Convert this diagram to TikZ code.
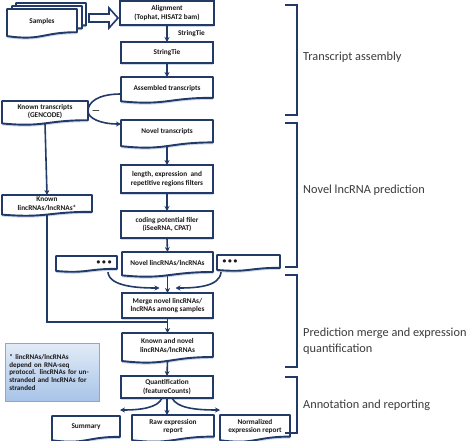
\documentclass[tikz,border=0pt]{standalone}
\usepackage{fontspec}
\setmainfont{Carlito}
\usetikzlibrary{arrows.meta,calc}
\definecolor{navy}{RGB}{34,58,104}
\definecolor{txt}{RGB}{25,25,25}
\definecolor{shadowc}{RGB}{90,130,190}
\definecolor{notefillA}{RGB}{226,235,247}
\definecolor{notefillB}{RGB}{168,195,232}
\definecolor{noteline}{RGB}{140,168,210}
\tikzset{
  boxtext/.style={inner sep=0pt, outer sep=0pt, align=center, text=txt,
     font=\fontsize{7.3}{8.3}\selectfont\bfseries},
  boxshadow/.style={preaction={fill=shadowc, fill opacity=0.3, draw=none, transform canvas={yshift=-2pt}}},
  rbox/.style={boxtext, draw=navy, line width=1.6pt, fill=white, boxshadow},
  docpath/.style={boxshadow, fill=white},
  docline/.style={draw=navy, line width=1.9pt, line join=round},
  arr/.style={draw=navy, line width=1.6pt, -{Stealth[length=5pt,width=5pt]}},
  plain/.style={draw=navy, line width=1.6pt},
  brk/.style={draw=navy, line width=1.6pt},
  lbl/.style={anchor=west, text=txt!85, font=\fontsize{12.3}{16}\selectfont, align=left, inner sep=0pt},
  note/.style={draw=noteline, line width=0.8pt, top color=notefillA, bottom color=notefillB,
     inner sep=4pt, text width=86pt, align=left, text=txt,
     font=\fontsize{7.1}{7.7}\selectfont\bfseries}
}
% document shape: [node opts]{name}{x1}{y1}{x2}{y2}
\newcommand\docshape[6][]{%
  \path[docpath] (#3,#4) -- (#5,#4) -- (#5,{#4+0.80*(#6-#4)})
    .. controls ({(#3+#5)/2},{#4+0.80*(#6-#4)}) and ({(#3+#5)/2},{#4+1.107*(#6-#4)})
    .. (#3,{#4+0.934*(#6-#4)}) -- cycle;
  \draw[docline] (#3,#4) -- (#5,#4) -- (#5,{#4+0.80*(#6-#4)})
    .. controls ({(#3+#5)/2},{#4+0.80*(#6-#4)}) and ({(#3+#5)/2},{#4+1.107*(#6-#4)})
    .. (#3,{#4+0.934*(#6-#4)}) -- cycle;
  \pgfmathsetmacro\dw{#5-#3}\pgfmathsetmacro\dh{0.85*(#6-#4)}%
  \node[boxtext, minimum width=\dw pt, minimum height=\dh pt, anchor=north, #1] (#2) at ({(#3+#5)/2},#4) {\docbody};
  \coordinate (#2-b) at ({(#3+#5)/2},{#4+0.932*(#6-#4)});
}
\newcommand\docbody{}
\newcommand\doc[7][]{\renewcommand\docbody{#7}\docshape[#1]{#2}{#3}{#4}{#5}{#6}}
\begin{document}
\begin{tikzpicture}[x=1pt,y=-1pt]
\useasboundingbox (0,0) rectangle (474,441);

% Samples stack
\doc{s3}{16}{3}{86}{31}{}
\doc{s2}{12}{6}{82}{34}{}
\doc{samples}{7}{9}{77}{38}{Samples}
% hollow arrow
\draw[navy, line width=1.6pt, fill=white, line join=miter]
  (89,14) -- (109,14) -- (109,8) -- (118,18) -- (109,28) -- (109,22) -- (89,22) -- cycle;

% main column
\node[rbox, minimum width=94pt, minimum height=24pt] (align) at (167,13) {Alignment\\(Tophat, HISAT2 bam)};
\node[boxtext, anchor=west] (stlabel) at (178,34) {StringTie};
\node[rbox, minimum width=92pt, minimum height=21pt] (stringtie) at (167,52.5) {StringTie};
\doc{asm}{121}{77}{213}{103}{Assembled transcripts}
\doc{known}{2}{101}{88}{125}{Known transcripts\\(GENCODE)}
\doc{novel}{121}{120}{213}{148}{Novel transcripts}
\node[rbox, minimum width=92pt, minimum height=28pt] (filt) at (167,179) {length, expression\ \ and\\repetitive regions filters};
\node[rbox, minimum width=92pt, minimum height=27pt] (coding) at (167,224.5) {coding potential filer\\(iSeeRNA, CPAT)};
\doc{nl}{122}{252}{213}{277}{Novel lincRNAs/lncRNAs}
\doc[text width=50pt, align=right]{dotsL}{56}{256}{117}{272}{\fontsize{7.5}{7.5}\selectfont\textbullet\hspace{1.8pt}\textbullet\hspace{1.8pt}\textbullet}
\doc[text width=52pt, align=left]{dotsR}{217}{255}{280}{271}{\fontsize{7.5}{7.5}\selectfont\textbullet\hspace{1.8pt}\textbullet\hspace{1.8pt}\textbullet}
\doc{klnc}{2}{195}{92}{216}{Known\\lincRNAs/lncRNAs*}
\node[rbox, minimum width=91pt, minimum height=25pt] (merge) at (167.5,305.5) {Merge novel lincRNAs/\\lncRNAs among samples};
\doc{kn}{122}{333}{213}{363}{Known and novel\\lincRNAs/lncRNAs}
\node[rbox, minimum width=92pt, minimum height=22pt] (quant) at (167,387) {Quantification\\(featureCounts)};
\doc{summary}{52}{416}{120}{442}{Summary}
\doc{raw}{132}{415}{214}{442}{Raw expression\\report}
\doc{norm}{220}{415}{290}{442}{Normalized\\expression report}

% note
\node[note, minimum width=92pt, minimum height=58pt, anchor=north west] (note) at (5,343)
  {* lincRNAs/lncRNAs\\depend on RNA-seq\\protocol. lincRNAs for un-\\stranded and lncRNAs for\\stranded};

% connectors
\draw[arr] (align.south) -- (stringtie.north);
\draw[arr] (stringtie.south) -- (asm.north);
\draw[arr] ($(asm.north west)+(0,17)$) .. controls (98,94) and (88,102) .. (known.east)
   .. controls (88,118) and (100,124) .. ($(novel.north west)+(0,4)$);
\node[font=\fontsize{9}{9}\selectfont\bfseries, text=txt, inner sep=0pt] (minus) at (96,112) {—};
\draw[arr] (novel-b) -- (filt.north);
\draw[arr] (filt.south) -- (coding.north);
\draw[arr] (coding.south) -- (nl.north);
\draw[arr] (nl-b) -- (merge.north);
\coordinate (lstart) at (108,272);
\coordinate (rstart) at (221,272);
\draw[arr] (lstart) .. controls (109,287) and (140,288) .. ($(merge.north)+(-8,-5)$);
\draw[arr] (rstart) .. controls (220,287) and (195,288) .. ($(merge.north)+(8,-5)$);
\draw[arr] (known-b) -- (klnc.north);
\coordinate (join) at (167.5,322);
\draw[plain] (klnc-b) |- (join);
\draw[arr] (merge.south) -- (kn.north);
\draw[arr] (kn-b) -- (quant.north);
\draw[arr] (quant.south) -- (quant.south |- raw.north);
\draw[arr] ($(quant.south)+(-5,0)$) .. controls (158,408) and (140,410) .. ($(summary.north east)+(0,-6)$);
\draw[arr] ($(quant.south)+(5,0)$) .. controls (177,408) and (195,410) .. ($(norm.north west)+(0,-5)$);

% brackets
\draw[brk] (285,5) -- (297,5) -- (297,115) -- (285,115);
\draw[brk] (285,123) -- (297,123) -- (297,267) -- (285,267);
\draw[brk] (285,275) -- (297,275) -- (297,367) -- (285,367);
\draw[brk] (285,377) -- (297,377) -- (297,433) -- (285,433);
\node[lbl] (l1) at (303,57) {Transcript assembly};
\node[lbl] (l2) at (303,190) {Novel lncRNA prediction};
\node[lbl] (l3) at (303,341) {Prediction merge and expression\\quantification};
\node[lbl] (l4) at (303,405) {Annotation and reporting};
\end{tikzpicture}
\end{document}
